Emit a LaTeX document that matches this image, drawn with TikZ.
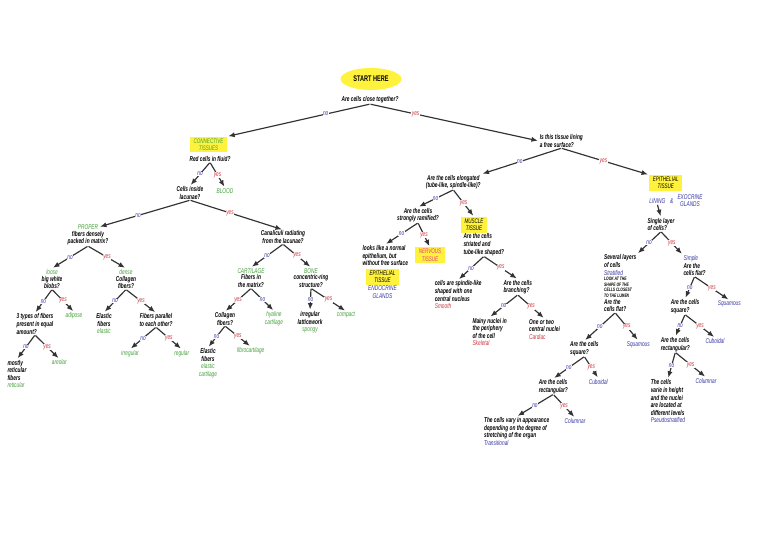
\documentclass[tikz,border=0pt]{standalone}
\usepackage{fontspec}
\setmainfont{Liberation Sans}[FakeStretch=0.68]
\usetikzlibrary{positioning,shapes.geometric,arrows.meta}
\definecolor{hiyellow}{RGB}{255,242,60}
\definecolor{grn}{RGB}{70,160,60}
\definecolor{blu}{RGB}{55,55,165}
\definecolor{rd}{RGB}{205,55,65}
\definecolor{pnk}{RGB}{235,60,130}
\tikzset{q/.style={font=\fontsize{6}{6.5}\selectfont\bfseries\itshape,inner sep=0.5pt,align=center},
    ql/.style={q,align=left},
    tg/.style={font=\fontsize{6}{6.5}\selectfont\itshape,inner sep=0.5pt,align=center,text=grn},
    tb/.style={tg,text=blu},
    lk/.style={font=\fontsize{4.2}{4.9}\selectfont\bfseries\itshape,inner sep=0.5pt,align=left},
    ybox/.style={fill=hiyellow,font=\fontsize{5.7}{6.3}\selectfont\itshape,inner xsep=3pt,inner ysep=1.5pt,align=center},
    startbox/.style={ellipse,fill=hiyellow,minimum width=1.71cm,minimum height=0.66cm,font=\fontsize{7}{8}\selectfont\bfseries},
    arr/.style={->,line width=1pt,draw=black!80,shorten >=1pt,shorten <=0.5pt},
    nolab/.style={font=\fontsize{6}{6}\selectfont\itshape,text=blu,fill=white,inner sep=0.4pt},
    yeslab/.style={nolab,text=rd},
    }
\begin{document}
\begin{tikzpicture}[x=0.03cm,y=-0.03cm,>={Latex[length=5.5pt,width=4.4pt]}]
\useasboundingbox (0,0) rectangle (768,537);
\node[startbox] (start) at (371,79) {START HERE};
\node[q] (q1) at (370,100) {Are cells close together?};
% connective
\node[ybox,text=grn] (conn) at (208.5,144.5) {CONNECTIVE\\TISSUES};
\node[q] (q2) at (210,159) {Red cells in fluid?};
\node[q] (lac) at (190,193) {Cells inside\\lacunae?};
\node[tg] (blood) at (225,191) {BLOOD};
\node[tg] (proper) at (88,227) {PROPER};
\node[q,below=0pt of proper] (qproper) {fibers densely\\packed in matrix?};
\node[tg] (loose) at (52,271.7) {loose};
\node[q,below=0pt of loose] (qloose) {big white\\blobs?};
\node[tg] (dense) at (126,271.7) {dense};
\node[q,below=0pt of dense] (qdense) {Collagen\\fibers?};
\node[ql] (three) at (35,324) {3 types of fibers\\present in equal\\amount?};
\node[tg] (adipose) at (74,316) {adipose};
\node[q] (elastic) at (104,323.5) {Elastic\\fibers\\\textcolor{grn}{\mdseries elastic}};
\node[q] (parallel) at (156,320) {Fibers parallel\\to each other?};
\node[ql] (retic) at (17,374) {mostly\\reticular\\fibers\\\textcolor{grn}{\mdseries reticular}};
\node[tg] (areolar) at (59.3,362.3) {areolar};
\node[tg] (irregular) at (130,353.3) {irregular};
\node[tg] (regular) at (181.7,353.3) {regular};
\node[q] (canal) at (283,237) {Canaliculi radiating\\from the lacunae?};
\node[tg] (cart) at (251,270.7) {CARTILAGE};
\node[q,below=0pt of cart] (qcart) {Fibers in\\the matrix?};
\node[tg] (bone) at (311,270.7) {BONE};
\node[q,below=0pt of bone] (qbone) {concentric-ring\\structure?};
\node[q] (coll) at (225,318.8) {Collagen\\fibers?};
\node[tg] (hyaline) at (274,318.8) {hyaline\\cartilage};
\node[q] (spongy) at (310,322.5) {irregular\\latticework\\\textcolor{grn}{\mdseries spongy}};
\node[tg] (compact) at (346,315) {compact};
\node[q] (elcart) at (208,363) {Elastic\\fibers\\\textcolor{grn}{\mdseries elastic}\\\textcolor{grn}{\mdseries cartilage}};
\node[tg] (fibro) at (250.7,350.7) {fibrocartilage};
% muscle, nervous
\node[ql,anchor=west] (lining) at (539,141) {Is this tissue lining\\a free surface?};
\node[q] (elong) at (453.3,182) {Are the cells elongated\\(tube-like, spindle-like)?};
\node[q] (ramif) at (418,215) {Are the cells\\strongly ramified?};
\node[ybox] (muscle) at (474,224.7) {MUSCLE\\TISSUE};
\node[ql,anchor=west] (qmuscle) at (462.7,244.7) {Are the cells\\striated and\\tube-like shaped?};
\node[ql,anchor=west] (normal) at (361.7,255.5) {looks like a normal\\epithelium, but\\without free surface};
\node[ybox] (epi2) at (382.5,277) {EPITHELIAL\\TISSUE};
\node[tb,below=0pt of epi2] (endo) {ENDOCRINE\\GLANDS};
\node[ybox,text=pnk] (nervous) at (430,255.3) {NERVOUS\\TISSUE};
\node[ql,anchor=west] (smooth) at (434,294.7) {cells are spindle-like\\shaped with one\\central nucleus\\\textcolor{rd}{\mdseries Smooth}};
\node[ql,anchor=west] (branch) at (502.7,287) {Are the cells\\branching?};
\node[ql,anchor=west] (skel) at (471.7,332) {Mainy nuclei in\\the periphery\\of the cell\\\textcolor{rd}{\mdseries Skeletal}};
\node[ql,anchor=west] (card) at (528.3,329.5) {One or two\\central nuclei\\\textcolor{rd}{\mdseries Cardiac}};
% epithelial
\node[ybox] (epi) at (665.7,182.8) {EPITHELIAL\\TISSUE};
\node[tb] (lin) at (657.3,201) {LINING};
\node[tb] (amp) at (671.7,201) {\&};
\node[tb] (exo) at (690,200.5) {EXOCRINE\\GLANDS};
\node[ql,anchor=west] (single) at (646.7,224.5) {Single layer\\of cells?};
\node[ql,anchor=north west] (strat) at (603.3,254) {Several layers\\of cells\\\textcolor{blu}{\mdseries Stratified}};
\node[lk,anchor=north west] (look) at (strat.south west) {LOOK AT THE\\SHAPE OF THE\\CELLS CLOSEST\\TO THE LUMEN};
\node[ql,anchor=north west] (sflat) at (look.south west) {Are the\\cells flat?};
\node[ql,anchor=west] (simple) at (682.7,265.7) {\textcolor{blu}{\mdseries Simple}\\Are the\\cells flat?};
\node[tb] (squam1) at (729.3,304) {Squamous};
\node[ql,anchor=west] (sq1) at (670,306.7) {Are the cells\\square?};
\node[tb] (cub1) at (715,341) {Cuboidal};
\node[ql,anchor=west] (rect1) at (660,344.5) {Are the cells\\rectangular?};
\node[tb] (col1) at (706,380.7) {Columnar};
\node[ql,anchor=west] (pseudo) at (650,401.3) {The cells\\varie in height\\and the nuclei\\are located at\\different levels\\\textcolor{blu}{\mdseries Pseudostratified}};
\node[tb] (squam2) at (638.3,344.5) {Squamous};
\node[ql,anchor=west] (sq2) at (569.3,348.7) {Are the cells\\square?};
\node[tb] (cub2) at (598.3,381.7) {Cuboidal};
\node[ql,anchor=west] (rect2) at (538,386.5) {Are the cells\\rectangular?};
\node[tb] (col2) at (575,421) {Columnar};
\node[ql,anchor=west] (trans) at (483.3,431.3) {The cells vary in appearance\\depending on the degree of\\stretching of the organ\\\textcolor{blu}{\mdseries Transitional}};

\draw[arr] (q1.south) -- node[nolab,pos=0.31]{no} (conn.north east);
\draw[arr] (q1.south) -- node[yeslab,pos=0.27]{yes} (lining.west);
\draw[arr] (q2.south) -- node[nolab]{no} (lac.north);
\draw[arr] (q2.south) -- node[yeslab]{yes} (blood.north);
\draw[arr] (lac.south) -- node[nolab,pos=0.57]{no} (proper.east);
\draw[arr] (lac.south) -- node[yeslab,pos=0.43]{yes} (canal.north);
\draw[arr] (qproper.south) -- node[nolab]{no} (loose.north);
\draw[arr] (qproper.south) -- node[yeslab]{yes} (dense.north);
\draw[arr] (qloose.south) -- node[nolab]{no} (three.north);
\draw[arr] (qloose.south) -- node[yeslab]{yes} (adipose.north);
\draw[arr] (qdense.south) -- node[nolab]{no} (elastic.north);
\draw[arr] (qdense.south) -- node[yeslab]{yes} (parallel.north);
\draw[arr] (three.south) -- node[nolab]{no} (retic.north);
\draw[arr] (three.south) -- node[yeslab]{yes} (areolar.north);
\draw[arr] (parallel.south) -- node[nolab]{no} (irregular.north);
\draw[arr] (parallel.south) -- node[yeslab]{yes} (regular.north);
\draw[arr] (canal.south) -- node[nolab]{no} (cart.north);
\draw[arr] (canal.south) -- node[yeslab]{yes} (bone.north);
\draw[arr] (qcart.south) -- node[yeslab]{yes} (coll.north);
\draw[arr] (qcart.south) -- node[nolab]{no} (hyaline.north);
\draw[arr] (qbone.south) -- node[nolab]{no} (spongy.north);
\draw[arr] (qbone.south) -- node[yeslab]{yes} (compact.north);
\draw[arr] (coll.south) -- node[nolab]{no} (elcart.north);
\draw[arr] (coll.south) -- node[yeslab]{yes} (fibro.north);
\draw[arr] (lining.south) -- node[nolab,pos=0.52]{no} (elong.north east);
\draw[arr] (lining.south) -- node[yeslab,pos=0.48]{yes} (epi.north west);
\draw[arr] (elong.south) -- node[nolab]{no} (ramif.north);
\draw[arr] (elong.south) -- node[yeslab]{yes} (muscle.north);
\draw[arr] (ramif.south) -- node[nolab]{no} (normal.north);
\draw[arr] (ramif.south) -- node[yeslab]{yes} (nervous.north);
\draw[arr] (qmuscle.south) -- node[nolab]{no} (smooth.north);
\draw[arr] (qmuscle.south) -- node[yeslab]{yes} (branch.north);
\draw[arr] (branch.south) -- node[nolab]{no} (skel.north);
\draw[arr] (branch.south) -- node[yeslab]{yes} (card.north);
\draw[arr] (lin.south) -- (single.north);
\draw[arr] (single.south) -- node[nolab]{no} (strat.north east);
\draw[arr] (single.south) -- node[yeslab]{yes} (simple.north west);
\draw[arr] (simple.south) -- node[nolab]{no} (sq1.north);
\draw[arr] (simple.south) -- node[yeslab]{yes} (squam1.north);
\draw[arr] (sq1.south) -- node[nolab]{no} (rect1.north);
\draw[arr] (sq1.south) -- node[yeslab]{yes} (cub1.north);
\draw[arr] (rect1.south) -- node[nolab]{no} (pseudo.north);
\draw[arr] (rect1.south) -- node[yeslab]{yes} (col1.north);
\draw[arr] (sflat.south) -- node[nolab]{no} (sq2.north);
\draw[arr] (sflat.south) -- node[yeslab]{yes} (squam2.north);
\draw[arr] (sq2.south) -- node[nolab]{no} (rect2.north);
\draw[arr] (sq2.south) -- node[yeslab]{yes} (cub2.north);
\draw[arr] (rect2.south) -- node[nolab]{no} (trans.north);
\draw[arr] (rect2.south) -- node[yeslab]{yes} (col2.north);
\end{tikzpicture}
\end{document}
